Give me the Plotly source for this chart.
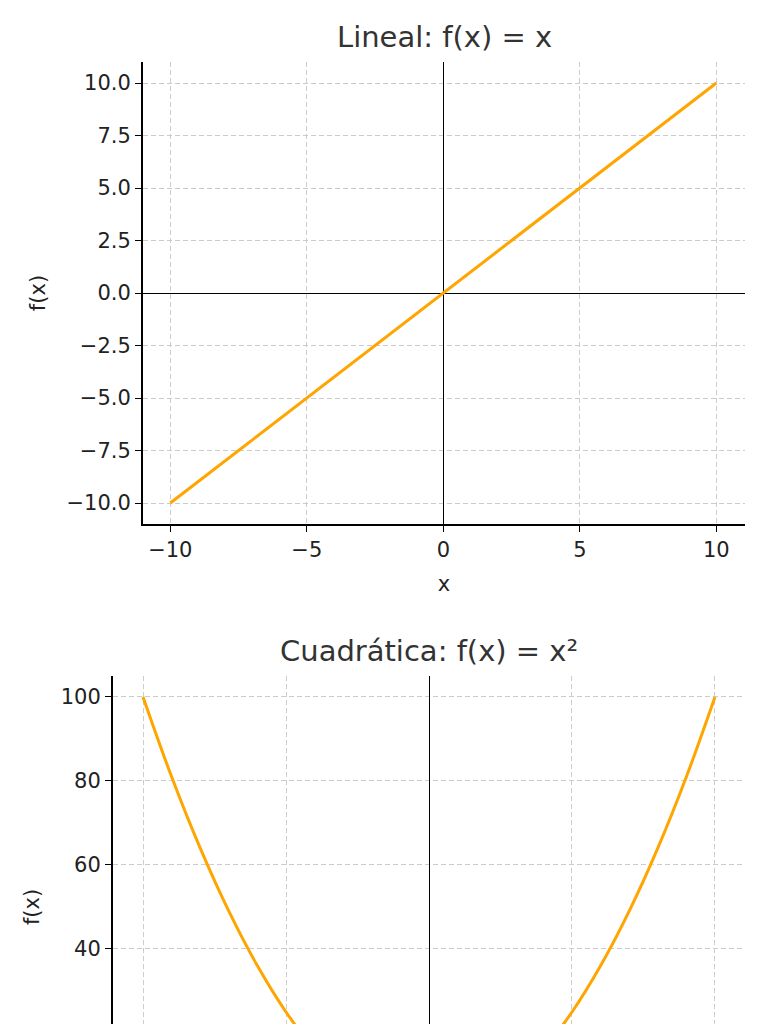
import plotly.graph_objects as go

lin_x = [-10, 10]
lin_y = [-10, 10]
quad_x = [-10, -9, -8, -7, -6, -5, -4, -3, -2, -1, 0, 1, 2, 3, 4, 5, 6, 7, 8, 9, 10]
quad_y = [100, 81, 64, 49, 36, 25, 16, 9, 4, 1, 0, 1, 4, 9, 16, 25, 36, 49, 64, 81, 100]
lin_yticks = [-10, -7.5, -5, -2.5, 0, 2.5, 5, 7.5, 10]
lin_yticklabels = ["−10.0", "−7.5", "−5.0", "−2.5", "0.0", "2.5", "5.0", "7.5", "10.0"]
lin_xticks = [-10, -5, 0, 5, 10]
lin_xticklabels = ["−10", "−5", "0", "5", "10"]
quad_yticks = [0, 20, 40, 60, 80, 100]

ORANGE = "#FFA500"
fig = go.Figure()
fig.add_trace(go.Scatter(x=lin_x, y=lin_y, mode="lines", line=dict(color=ORANGE, width=3),
                         xaxis="x", yaxis="y", showlegend=False))
fig.add_trace(go.Scatter(x=quad_x, y=quad_y, mode="lines", line=dict(color=ORANGE, width=3, shape="spline"),
                         xaxis="x2", yaxis="y2", showlegend=False))

font = dict(family="DejaVu Sans", size=21, color="#222")
ax = dict(showgrid=True, gridcolor="#cccccc", griddash="5px,3px", gridwidth=1,
          zeroline=True, zerolinecolor="black", zerolinewidth=1,
          showline=True, linecolor="black", linewidth=2, ticks="outside",
          ticklen=6, tickcolor="black", tickfont=font, mirror=False)
H = 1210
fig.update_layout(
    width=768, height=H, margin=dict(l=105, r=31, t=54, b=80),
    plot_bgcolor="white", paper_bgcolor="white", font=font,
    xaxis=dict(ax, domain=[0.0475, 1], anchor="y", range=[-11, 11.05],
               tickvals=lin_xticks, ticktext=lin_xticklabels,
               title=dict(text="x", font=font)),
    yaxis=dict(ax, domain=[0.5706, 1], anchor="x", range=[-11, 11],
               tickvals=lin_yticks, ticktext=lin_yticklabels,
               title=dict(text="f(x)", font=font)),
    xaxis2=dict(ax, domain=[0, 1], anchor="y2", range=[-11.05, 11.05],
                tickvals=lin_xticks, ticktext=lin_xticklabels),
    yaxis2=dict(ax, domain=[0, 0.4294], anchor="x2", range=[-5, 105],
                tickvals=quad_yticks, title=dict(text="f(x)", font=font)),
    annotations=[
        dict(text="Lineal: f(x) = x", xref="paper", yref="paper", x=(0.0475 + 1) / 2, y=1,
             yshift=6, yanchor="bottom", showarrow=False, font=dict(family="DejaVu Sans", size=29, color="#333")),
        dict(text="Cuadrática: f(x) = x²", xref="paper", yref="paper", x=0.5, y=0.4294,
             yshift=6, yanchor="bottom", showarrow=False, font=dict(family="DejaVu Sans", size=29, color="#333")),
    ],
)
fig.write_html("out.html")
